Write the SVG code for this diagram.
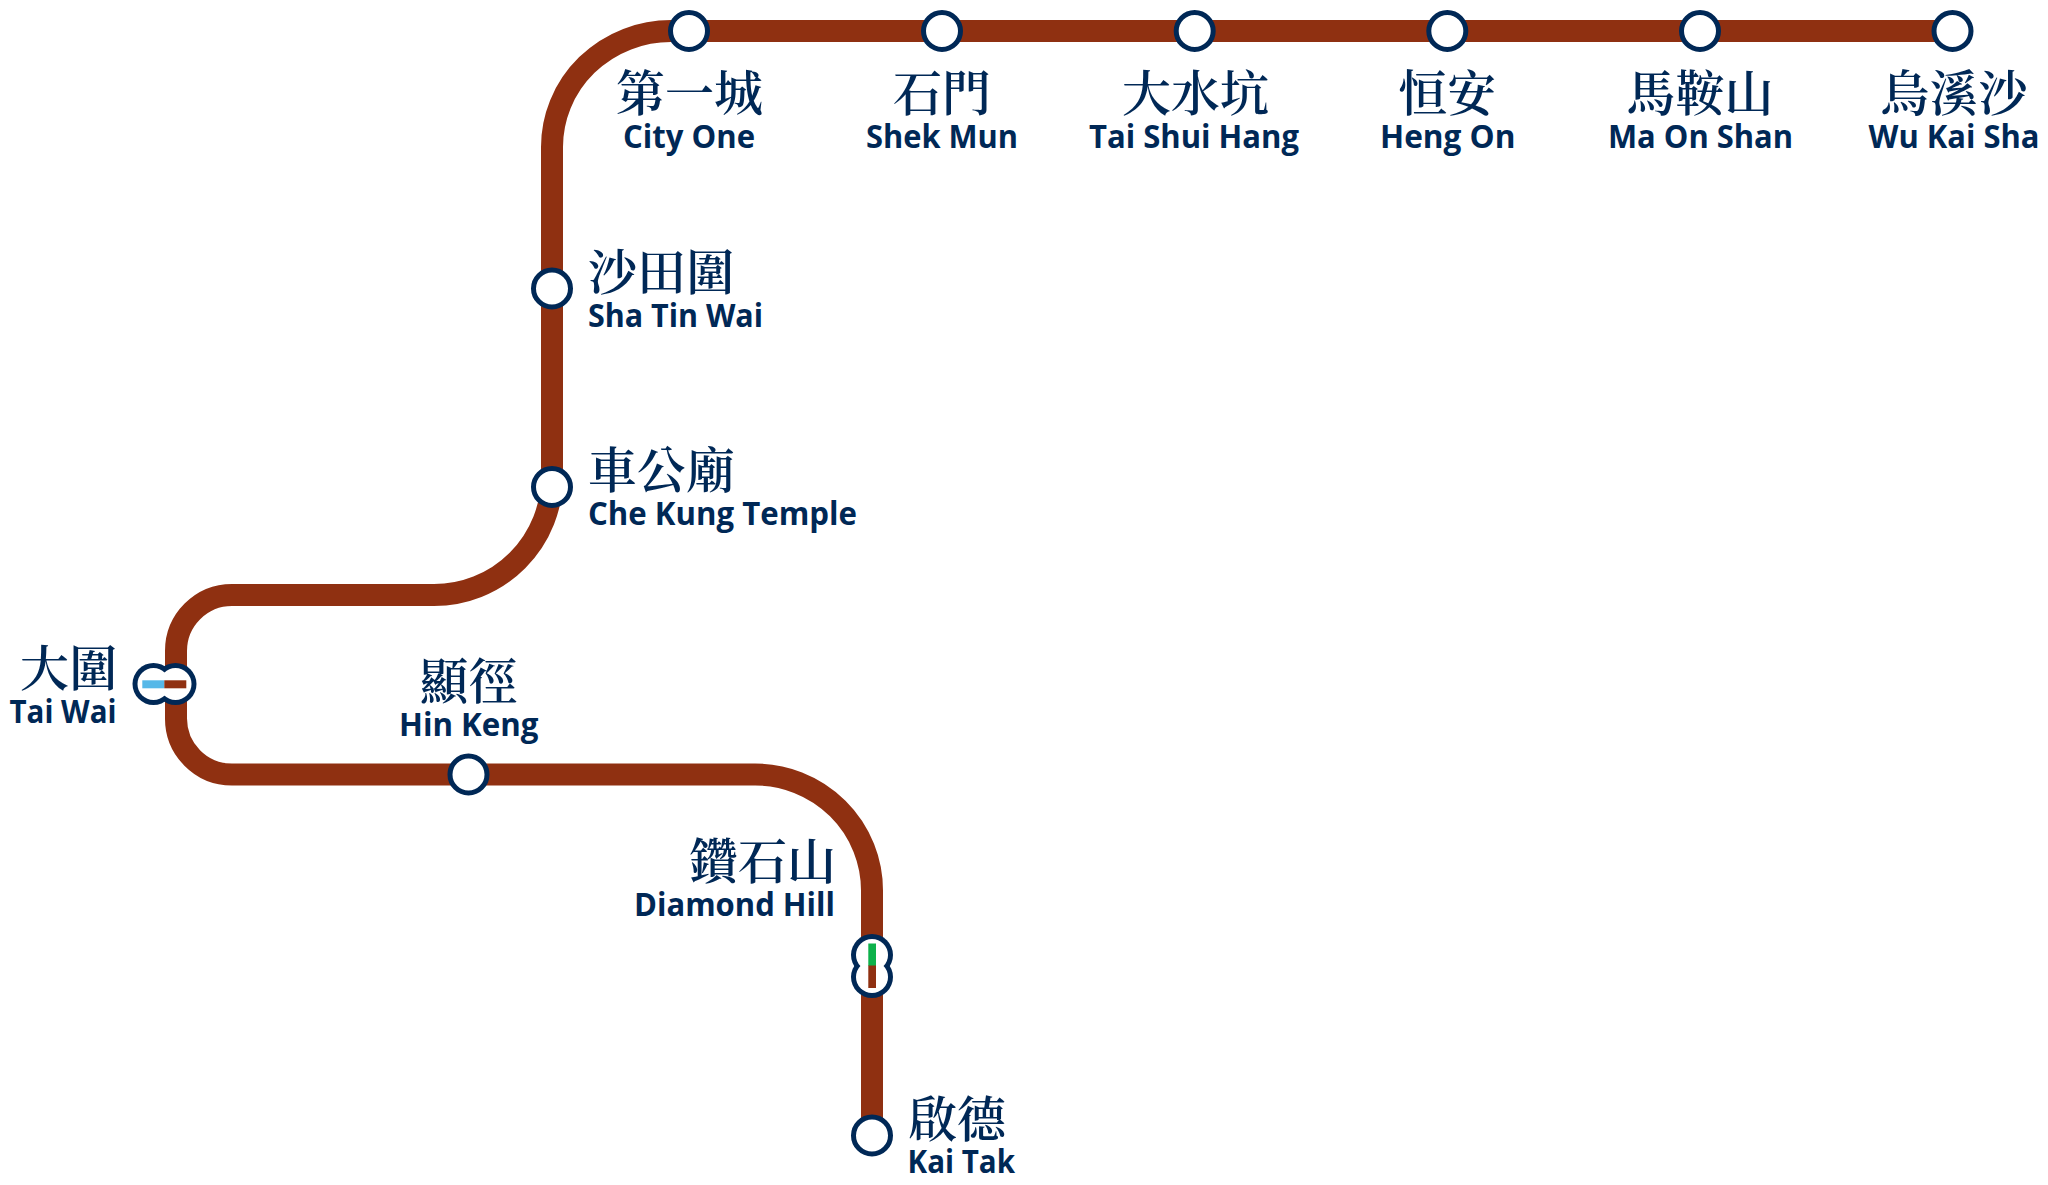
<svg xmlns="http://www.w3.org/2000/svg" width="2048" height="1185" viewBox="0 0 2048 1185">
<style>
.line{fill:none;stroke:#8f3011;stroke-width:22}
.st{fill:#fff;stroke:#002856;stroke-width:5}
.ring{fill:#002856}
.hole{fill:#fff}
.zh{font-family:"Noto Serif CJK TC","Noto Sans CJK TC",serif;font-size:49px;font-weight:600;fill:#002856}
.en{font-family:"Open Sans","Noto Sans",sans-serif;font-weight:700;font-size:33px;fill:#002856}
.m{text-anchor:middle}
.e{text-anchor:end}
</style>
<rect width="2048" height="1185" fill="#fff"/>
<g id="connectors">
<path class="line" d="M1952.5 31H671A119 116 0 0 0 552 147V477A118 118 0 0 1 434 595H232A56 56 0 0 0 176 651V718A56 56 0 0 0 232 774.5H755A117 116 0 0 1 872 890.5V1135"/>
</g>
<g id="wu-kai-sha"><circle class="st" cx="1952.5" cy="31" r="18.5"/><text class="zh m" x="1954" y="110.5">烏溪沙</text><text class="en" x="1868.5" y="148" textLength="171" lengthAdjust="spacingAndGlyphs">Wu Kai Sha</text></g>
<g id="ma-on-shan"><circle class="st" cx="1700" cy="31" r="18.5"/><text class="zh m" x="1700" y="110.5">馬鞍山</text><text class="en" x="1608" y="148" textLength="185" lengthAdjust="spacingAndGlyphs">Ma On Shan</text></g>
<g id="heng-on"><circle class="st" cx="1447.3" cy="31" r="18.5"/><text class="zh m" x="1447.3" y="110.5">恒安</text><text class="en" x="1380" y="148" textLength="135.5" lengthAdjust="spacingAndGlyphs">Heng On</text></g>
<g id="tai-shui-hang"><circle class="st" cx="1194.7" cy="31" r="18.5"/><text class="zh m" x="1195.5" y="110.5">大水坑</text><text class="en" x="1089" y="148" textLength="210" lengthAdjust="spacingAndGlyphs">Tai Shui Hang</text></g>
<g id="shek-mun"><circle class="st" cx="942" cy="31" r="18.5"/><text class="zh m" x="942" y="110.5">石門</text><text class="en" x="866" y="148" textLength="152" lengthAdjust="spacingAndGlyphs">Shek Mun</text></g>
<g id="city-one"><circle class="st" cx="689" cy="31" r="18.5"/><text class="zh m" x="689.5" y="110.5">第一城</text><text class="en" x="623" y="148" textLength="132" lengthAdjust="spacingAndGlyphs">City One</text></g>
<g id="sha-tin-wai"><circle class="st" cx="552" cy="288.5" r="18.5"/><text class="zh" x="588" y="290">沙田圍</text><text class="en" x="588" y="327" textLength="175" lengthAdjust="spacingAndGlyphs">Sha Tin Wai</text></g>
<g id="che-kung-temple"><circle class="st" cx="552" cy="487" r="18.5"/><text class="zh" x="588" y="488">車公廟</text><text class="en" x="588" y="525" textLength="269" lengthAdjust="spacingAndGlyphs">Che Kung Temple</text></g>
<g id="tai-wai"><circle class="ring" cx="153.5" cy="684" r="21"/><circle class="ring" cx="175.5" cy="684" r="21"/><circle class="hole" cx="153.5" cy="684" r="16"/><circle class="hole" cx="175.5" cy="684" r="16"/><rect x="142.3" y="680.3" width="22" height="8" fill="#56b8e8"/><rect x="164.3" y="680.3" width="22" height="8" fill="#8f3011"/><text class="zh e" x="118" y="686">大圍</text><text class="en" x="9.5" y="723" textLength="107" lengthAdjust="spacingAndGlyphs">Tai Wai</text></g>
<g id="hin-keng"><circle class="st" cx="468.5" cy="774.5" r="18.5"/><text class="zh m" x="468.5" y="699">顯徑</text><text class="en" x="399" y="736" textLength="139.5" lengthAdjust="spacingAndGlyphs">Hin Keng</text></g>
<g id="diamond-hill"><circle class="ring" cx="872" cy="955" r="21"/><circle class="ring" cx="872" cy="977" r="21"/><circle class="hole" cx="872" cy="955" r="16"/><circle class="hole" cx="872" cy="977" r="16"/><rect x="868.3" y="943.5" width="7.7" height="22.5" fill="#0db14b"/><rect x="868.3" y="965.5" width="7.7" height="22.5" fill="#8f3011"/><text class="zh e" x="836" y="879">鑽石山</text><text class="en" x="634" y="916" textLength="201" lengthAdjust="spacingAndGlyphs">Diamond Hill</text></g>
<g id="kai-tak"><circle class="st" cx="872" cy="1135.5" r="18.5"/><text class="zh" x="908" y="1137">啟德</text><text class="en" x="907.5" y="1173" textLength="107.5" lengthAdjust="spacingAndGlyphs">Kai Tak</text></g>
</svg>
